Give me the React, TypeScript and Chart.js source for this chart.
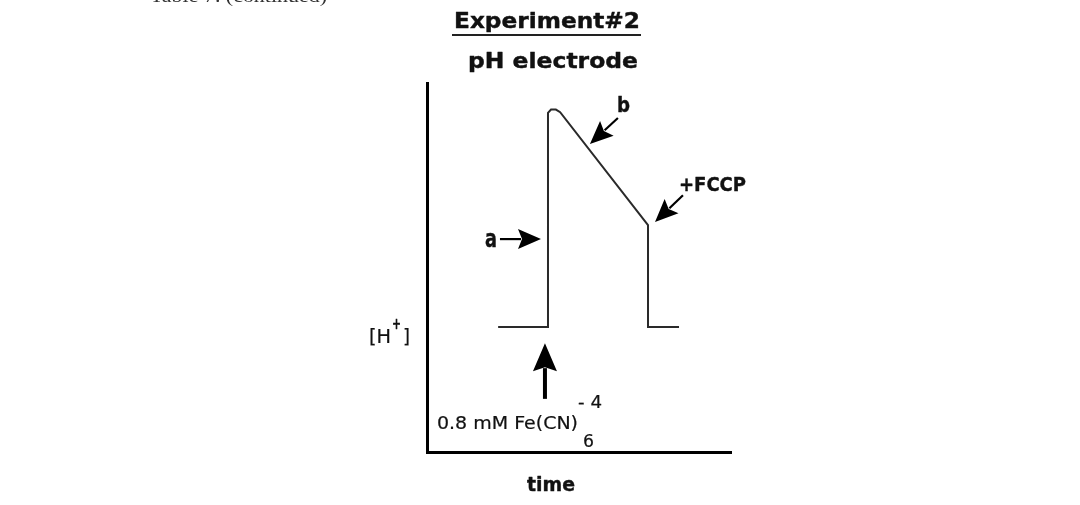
import { useEffect, useRef } from "react";
import Chart from "chart.js/auto";

// trace of [H+] read by the pH electrode (arbitrary units, 0-100 on both axes)
const timeValues = [23.4, 39.8, 39.8, 40.8, 42.4, 43.8, 72.7, 72.7, 82.9];
const hPlusValues = [33.9, 33.9, 91.9, 92.8, 92.8, 92.1, 61.5, 33.9, 33.9];

// arrows, in data units: tips and tails
const arrowNames = ["a", "b", "FCCP", "ferricyanide"];
const arrowTips = [
  [37.5, 57.7],
  [53.6, 83.5],
  [75.0, 62.3],
  [38.8, 29.5],
];
const arrowTails = [
  [24.0, 57.7],
  [62.8, 90.5],
  [84.2, 69.6],
  [38.8, 14.4],
];

type Label = {
  text: string;
  x: number;
  y: number;
  w?: number;
  font: string;
  color?: string;
  weight?: number;
};

const labels: Label[] = [
  { text: "Table 7. (continued)", x: 150, y: 2, w: 177, font: "18px 'Liberation Serif'", color: "#333" },
  { text: "Experiment#2", x: 454, y: 28, w: 186, font: "bold 21px 'DejaVu Sans'", weight: 0.4 },
  { text: "pH electrode", x: 468, y: 68, w: 170, font: "bold 21px 'DejaVu Sans'", weight: 0.4 },
  { text: "[H", x: 369, y: 343, w: 22, font: "19px 'DejaVu Sans'", weight: 0.2 },
  { text: "+", x: 392, y: 329, w: 9, font: "bold 15px 'DejaVu Sans'", weight: 0.3 },
  { text: "]", x: 403, y: 343, w: 7, font: "19px 'DejaVu Sans'", weight: 0.2 },
  { text: "a", x: 485, y: 247, w: 12, font: "bold 25px 'DejaVu Sans'", weight: 0.4 },
  { text: "b", x: 617, y: 112, w: 13, font: "bold 21px 'DejaVu Sans'", weight: 0.4 },
  { text: "+FCCP", x: 679, y: 191, w: 67, font: "bold 20px 'DejaVu Sans'", weight: 0.4 },
  { text: "0.8 mM Fe(CN)", x: 437, y: 429, w: 141, font: "17px 'DejaVu Sans'", weight: 0.2 },
  { text: "6", x: 583, y: 447, w: 11, font: "17px 'DejaVu Sans'", weight: 0.2 },
  { text: "- 4", x: 578, y: 408, w: 24, font: "17px 'DejaVu Sans'", weight: 0.2 },
  { text: "time", x: 527, y: 491, w: 48, font: "bold 19px 'DejaVu Sans'", weight: 0.4 },
];

// draws a label squeezed or stretched to the width
function drawText(ctx: CanvasRenderingContext2D, l: Label) {
  ctx.save();
  ctx.font = l.font;
  ctx.fillStyle = l.color ?? "#111";
  ctx.strokeStyle = l.color ?? "#111";
  ctx.textAlign = "left";
  ctx.textBaseline = "alphabetic";
  const m = ctx.measureText(l.text).width;
  const sx = l.w ? l.w / m : 1;
  ctx.translate(l.x, l.y);
  ctx.scale(sx, 1);
  ctx.fillText(l.text, 0, 0);
  if (l.weight) {
    ctx.lineWidth = l.weight;
    ctx.lineJoin = "round";
    ctx.strokeText(l.text, 0, 0);
  }
  ctx.restore();
}

function drawArrow(
  ctx: CanvasRenderingContext2D,
  tx: number,
  ty: number,
  sx: number,
  sy: number,
  headLen: number,
  headW: number,
  shaftW: number
) {
  const ang = Math.atan2(ty - sy, tx - sx);
  const bx = tx - Math.cos(ang) * headLen;
  const by = ty - Math.sin(ang) * headLen;
  const nx = -Math.sin(ang) * (headW / 2);
  const ny = Math.cos(ang) * (headW / 2);
  ctx.save();
  ctx.strokeStyle = "#000";
  ctx.fillStyle = "#000";
  ctx.lineWidth = shaftW;
  ctx.beginPath();
  ctx.moveTo(sx, sy);
  ctx.lineTo(bx + Math.cos(ang) * 3, by + Math.sin(ang) * 3);
  ctx.stroke();
  ctx.beginPath();
  ctx.moveTo(tx, ty);
  ctx.lineTo(bx + nx, by + ny);
  ctx.lineTo(bx + Math.cos(ang) * 4, by + Math.sin(ang) * 4);
  ctx.lineTo(bx - nx, by - ny);
  ctx.closePath();
  ctx.fill();
  ctx.restore();
}

const annotations = {
  id: "annotations",
  afterDraw(chart: Chart) {
    const { ctx } = chart;
    const xs = chart.scales.x;
    const ys = chart.scales.y;
    arrowNames.forEach((name, i) => {
      const big = name === "ferricyanide";
      drawArrow(
        ctx,
        xs.getPixelForValue(arrowTips[i][0]),
        ys.getPixelForValue(arrowTips[i][1]),
        xs.getPixelForValue(arrowTails[i][0]),
        ys.getPixelForValue(arrowTails[i][1]),
        big ? 28 : 23,
        big ? 24 : 20,
        big ? 4 : 2.2
      );
    });
    labels.forEach((l) => drawText(ctx, l));
    // underline of the heading
    ctx.save();
    ctx.strokeStyle = "#222";
    ctx.lineWidth = 2;
    ctx.beginPath();
    ctx.moveTo(452, 35);
    ctx.lineTo(641, 35);
    ctx.stroke();
    ctx.restore();
  },
};

export default function App() {
  const canvasRef = useRef<HTMLCanvasElement | null>(null);

  useEffect(() => {
    if (!canvasRef.current) return;
    const ctx = canvasRef.current.getContext("2d");
    if (!ctx) return;
    const chart = new Chart(ctx, {
      type: "scatter",
      data: {
        datasets: [
          {
            label: "[H+]",
            data: timeValues.map((t, i) => ({ x: t, y: hPlusValues[i] })),
            showLine: true,
            borderColor: "#2a2a2a",
            borderWidth: 2,
            pointRadius: 0,
            tension: 0,
          },
        ],
      },
      options: {
        animation: false,
        responsive: true,
        maintainAspectRatio: false,
        layout: { padding: { left: 427, right: 349, top: 83, bottom: 53 } },
        plugins: { legend: { display: false }, tooltip: { enabled: false } },
        scales: {
          x: {
            type: "linear",
            min: 0,
            max: 100,
            ticks: { display: false },
            grid: { display: false, drawTicks: false },
            border: { display: true, color: "#000", width: 3 },
          },
          y: {
            type: "linear",
            min: 0,
            max: 100,
            ticks: { display: false },
            grid: { display: false, drawTicks: false },
            border: { display: true, color: "#000", width: 3 },
          },
        },
      },
      plugins: [annotations],
    });
    return () => {
      chart.destroy();
    };
  }, []);

  return (
    <div
      style={{
        position: "absolute",
        left: 0,
        top: 0,
        width: 1080,
        height: 505,
        background: "#fff",
      }}
    >
      <canvas ref={canvasRef}></canvas>
    </div>
  );
}
